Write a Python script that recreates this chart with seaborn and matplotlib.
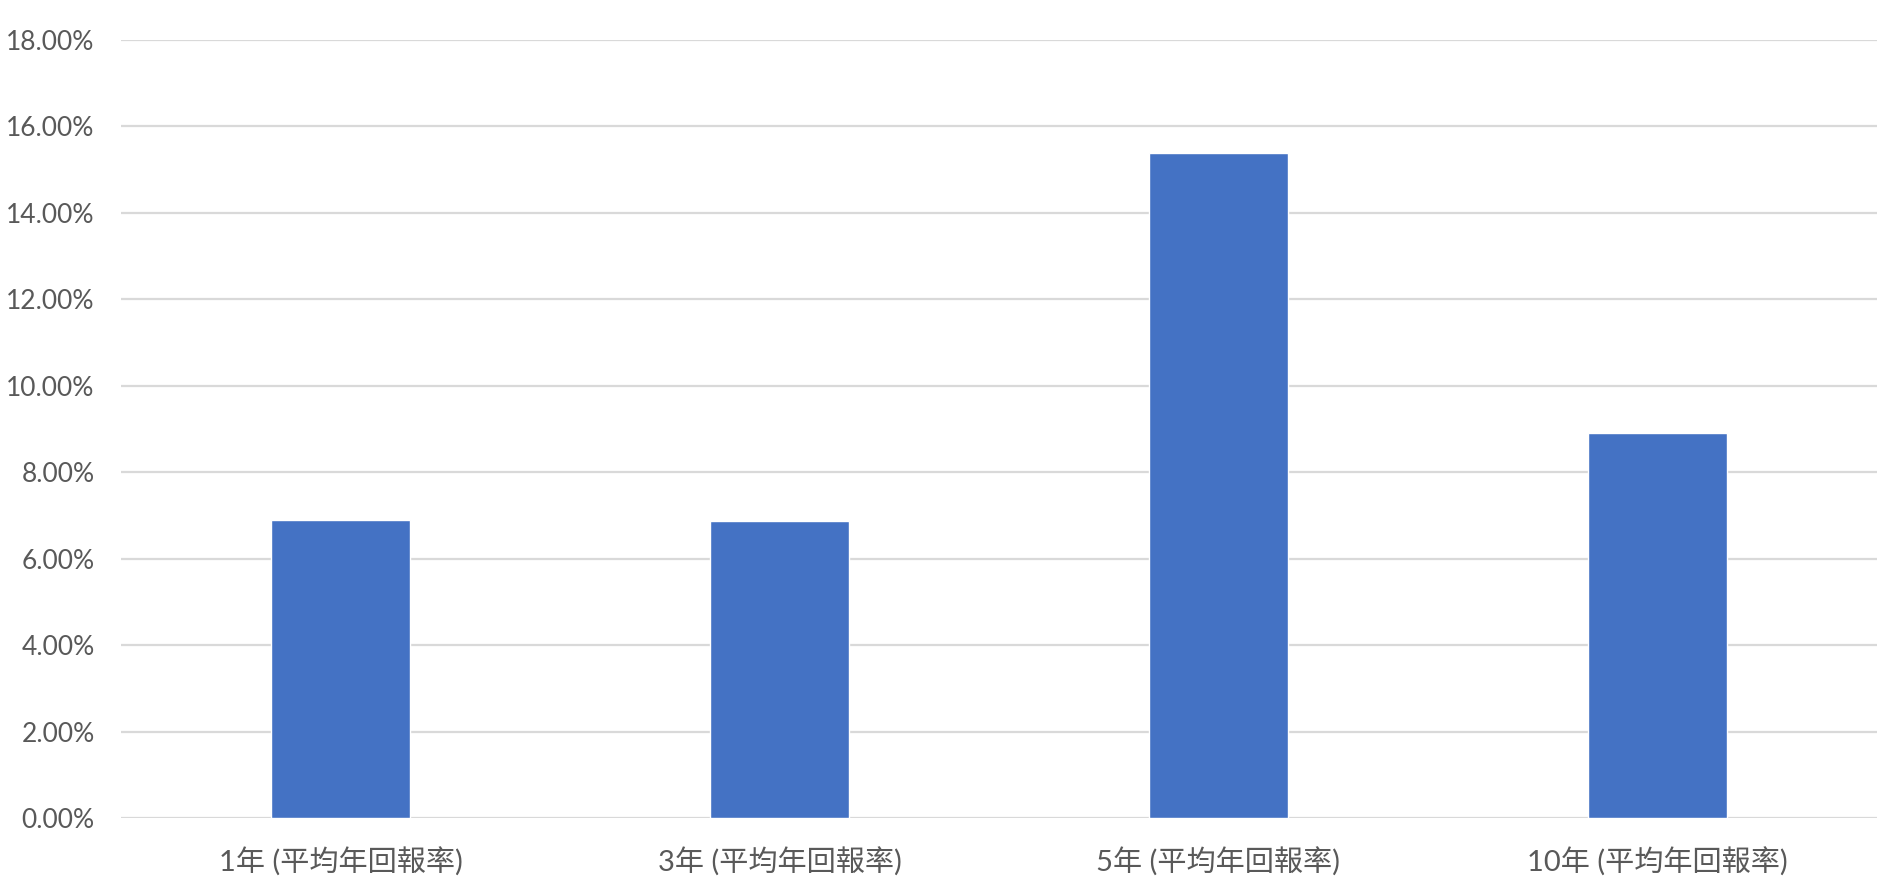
import matplotlib
matplotlib.use("Agg")
import matplotlib.pyplot as plt
import seaborn as sns
import pandas as pd
from matplotlib.ticker import FuncFormatter, MultipleLocator

categories = ["1年 (平均年回報率)", "3年 (平均年回報率)", "5年 (平均年回報率)", "10年 (平均年回報率)"]
values = [0.0689, 0.0687, 0.1538, 0.0890]

df = pd.DataFrame({"period": categories, "ret": values})

sns.set_theme(style="white")
plt.rcParams['font.family'] = ['Lato', 'Noto Sans CJK TC', 'DejaVu Sans']

fig = plt.figure(figsize=(18.93, 8.88), dpi=100)
ax = fig.add_axes([121/1893, 1-818/888, (1877-121)/1893, (818-40)/888])

sns.barplot(data=df, x="period", y="ret", color="#4472C4", saturation=1,
            width=0.315, ax=ax, zorder=3)

ax.set_ylim(0, 0.18)
ax.set_xlim(-0.5, 3.5)
ax.yaxis.set_major_locator(MultipleLocator(0.02))
ax.yaxis.set_major_formatter(FuncFormatter(lambda v, p: f"{v*100:.2f}%"))
ax.grid(axis="y", color="#d9d9d9", linewidth=1.6, zorder=0)
ax.grid(axis="x", visible=False)
for s in ax.spines.values():
    s.set_visible(False)
ax.set_xlabel("")
ax.set_ylabel("")
ax.tick_params(axis="y", length=0, pad=19, labelsize=19, labelcolor="#595959")
ax.tick_params(axis="x", length=0, pad=21, labelsize=21, labelcolor="#595959")
for lbl in ax.get_xticklabels():
    lbl.set_family(['Lato', 'Noto Sans CJK TC', 'DejaVu Sans'])

fig.savefig("out.png", dpi=100, facecolor="white")
